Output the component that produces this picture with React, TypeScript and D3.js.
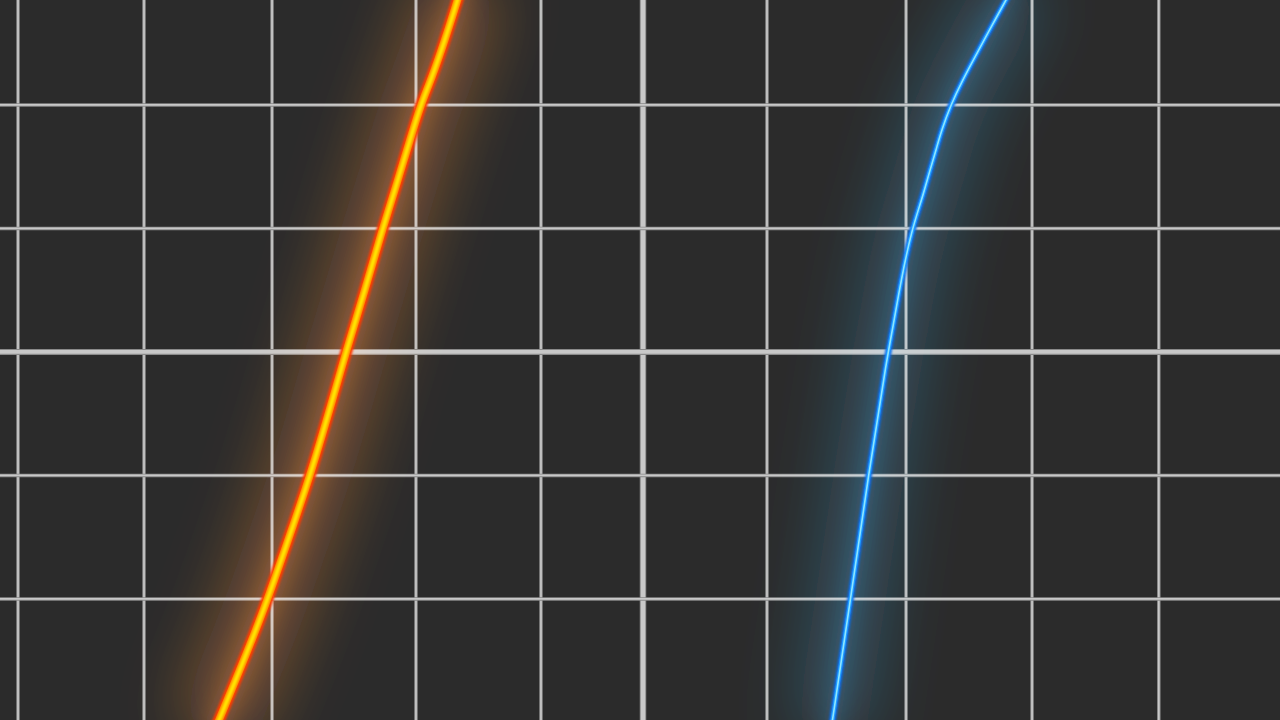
import React from "react";
import * as d3 from "d3";

// Grid positions in data units
const xGridTicks = [-4.98, -3.976, -2.956, -1.809, -0.813, 0, 0.988, 2.096, 3.1, 4.11];
const yGridTicks = [2, 1, 0, -1, -2];
const majorTick = 0;

// Orange curve: u (x) and v (y) values
const orangeV = [3.0, 2.85, 2.526, 2.202, 2.008, 1.717, 1.393, 0.996, 0.502, 0, -0.389, -1.004, -1.36, -2.0, -2.413, -2.98, -3.1];
const orangeU = [-1.432, -1.478, -1.578, -1.689, -1.769, -1.857, -1.952, -2.076, -2.215, -2.367, -2.474, -2.653, -2.773, -2.988, -3.147, -3.378, -3.427];

// Blue curve
const blueV = [3.0, 2.85, 2.688, 2.526, 2.364, 2.202, 2.0, 1.798, 1.636, 1.474, 1.231, 0.996, 0.583, 0.178, 0, -1.004, -2.0, -2.98, -3.1];
const blueU = [2.974, 2.892, 2.805, 2.717, 2.632, 2.547, 2.452, 2.38, 2.335, 2.287, 2.221, 2.143, 2.056, 1.988, 1.952, 1.795, 1.654, 1.51, 1.492];

const W = 1280;
const H = 720;

export default function App() {
  const x = d3.scaleLinear().domain([-5.1235, 5.0757]).range([0, W]);
  const y = d3.scaleLinear().domain([2.85, -2.98]).range([0, H]);

  const line = d3
    .line<[number, number]>()
    .x((d) => x(d[0]))
    .y((d) => y(d[1]))
    .curve(d3.curveBasis);

  const orangePts = orangeU.map((u, i) => [u, orangeV[i]] as [number, number]);
  const bluePts = blueU.map((u, i) => [u, blueV[i]] as [number, number]);
  const orangeD = line(orangePts) || "";
  const blueD = line(bluePts) || "";

  const fr = { filterUnits: "userSpaceOnUse", x: -200, y: -200, width: W + 400, height: H + 400 } as any;

  return (
    <div style={{ position: "fixed", left: 0, top: 0, width: W, height: H, background: "#2b2b2b" }}>
      <svg width={W} height={H} viewBox={`0 0 ${W} ${H}`} style={{ display: "block" }}>
        <defs>
          <filter id="blurWide" {...fr}>
            <feGaussianBlur stdDeviation="32" />
          </filter>
          <filter id="blurMid" {...fr}>
            <feGaussianBlur stdDeviation="10" />
          </filter>
          <filter id="blurSoft" {...fr}>
            <feGaussianBlur stdDeviation="1.1" />
          </filter>
        </defs>
        <rect x={0} y={0} width={W} height={H} fill="#2b2b2b" />

        {/* grid */}
        <g>
          {xGridTicks.map((t) => (
            <g key={"vx" + t}>
              <line x1={x(t)} x2={x(t)} y1={0} y2={H} stroke="#8a8a8a" strokeWidth={t === majorTick ? 6.5 : 3.5} />
              <line x1={x(t)} x2={x(t)} y1={0} y2={H} stroke="#c8c8c8" strokeWidth={t === majorTick ? 4.5 : 1.7} />
            </g>
          ))}
          {yGridTicks.map((t) => (
            <g key={"hy" + t}>
              <line x1={0} x2={W} y1={y(t)} y2={y(t)} stroke="#8a8a8a" strokeWidth={t === majorTick ? 6 : 3.5} />
              <line x1={0} x2={W} y1={y(t)} y2={y(t)} stroke="#c8c8c8" strokeWidth={t === majorTick ? 3.8 : 1.7} />
            </g>
          ))}
        </g>

        {/* orange curve glow */}
        <g style={{ mixBlendMode: "screen" }}>
          <path d={orangeD} fill="none" stroke="#b85a18" strokeOpacity={0.5} strokeWidth={80} filter="url(#blurWide)" />
          <path d={orangeD} fill="none" stroke="#d86a14" strokeOpacity={0.3} strokeWidth={26} filter="url(#blurMid)" />
        </g>
        {/* blue curve glow */}
        <g style={{ mixBlendMode: "screen" }}>
          <path d={blueD} fill="none" stroke="#1b6690" strokeOpacity={0.45} strokeWidth={70} filter="url(#blurWide)" />
          <path d={blueD} fill="none" stroke="#1f86c8" strokeOpacity={0.25} strokeWidth={18} filter="url(#blurMid)" />
        </g>

        {/* orange core */}
        <path d={orangeD} fill="none" stroke="#ff3a00" strokeWidth={12} filter="url(#blurSoft)" />
        <path d={orangeD} fill="none" stroke="#ff8000" strokeWidth={7.5} />
        <path d={orangeD} fill="none" stroke="#ffe600" strokeWidth={4.5} filter="url(#blurSoft)" />

        {/* blue core */}
        <path d={blueD} fill="none" stroke="#0a6cf0" strokeWidth={6.5} filter="url(#blurSoft)" />
        <path d={blueD} fill="none" stroke="#1e9cff" strokeWidth={4} />
        <path d={blueD} fill="none" stroke="#8fe6ff" strokeWidth={1.6} />
      </svg>
    </div>
  );
}
